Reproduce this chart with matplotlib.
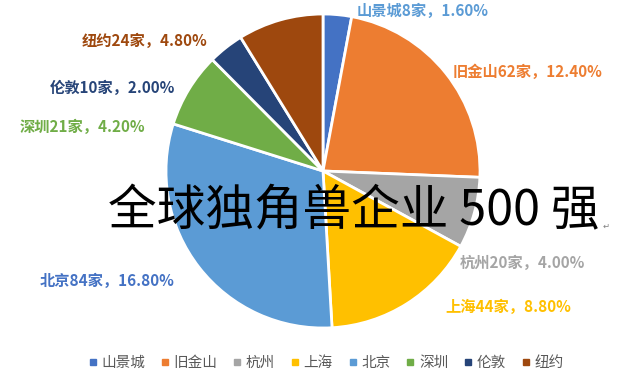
import matplotlib
matplotlib.use('Agg')
import matplotlib.pyplot as plt
from matplotlib.lines import Line2D

plt.rcParams['font.family'] = ['Noto Sans CJK SC', 'DejaVu Sans']

cities = ['山景城', '旧金山', '杭州', '上海', '北京', '深圳', '伦敦', '纽约']
counts = [8, 62, 20, 44, 84, 21, 10, 24]
shares = ['1.60%', '12.40%', '4.00%', '8.80%', '16.80%', '4.20%', '2.00%', '4.80%']
colors = ['#4472C4', '#ED7D31', '#A5A5A5', '#FFC000', '#5B9BD5', '#70AD47', '#264478', '#9E480E']
label_colors = ['#5B9BD5', '#ED7D31', '#A5A5A5', '#FFC000', '#4472C4', '#70AD47', '#264478', '#9E480E']
# label anchor (left x, center y) in pixels
label_pos = [(357, 11), (453, 72), (460, 263), (445, 307), (40, 281), (20, 127), (50, 88), (82, 41)]
title = '全球独角兽企业 500 强'

W, H = 629, 381
fig = plt.figure(figsize=(W / 100, H / 100), dpi=100)

cx, cy, r = 323, 171, 157
ax = fig.add_axes([(cx - r) / W, (H - cy - r) / H, 2 * r / W, 2 * r / H])
ax.pie(counts, colors=colors, startangle=90, counterclock=False,
       wedgeprops=dict(edgecolor='white', linewidth=2))
ax.set_xlim(-1, 1)
ax.set_ylim(-1, 1)
ax.axis('off')

for city, n, s, c, (x, y) in zip(cities, counts, shares, label_colors, label_pos):
    fig.text(x / W, 1 - y / H, '{0}{1}家，{2}'.format(city, n, s), color=c,
             fontsize=11, fontweight='bold', ha='left', va='center')

fig.text(354 / W, 1 - 212 / H, title, fontsize=35, color='black',
         fontweight='light', ha='center', va='center')
fig.text(606 / W, 1 - 226 / H, '↵', fontsize=6, color='#808080',
         family='DejaVu Sans', ha='center', va='center')

handles = [Line2D([], [], marker='s', linestyle='none', markersize=4,
                  markerfacecolor=c, markeredgecolor=c) for c in colors]
fig.legend(handles, cities, loc='center', bbox_to_anchor=(326 / W, 1 - 363 / H),
           ncol=len(cities), frameon=False, fontsize=10.5, handlelength=0.6,
           handletextpad=0.3, columnspacing=1.05, labelcolor='#595959')

fig.savefig('out.png', dpi=100)
plt.close(fig)
